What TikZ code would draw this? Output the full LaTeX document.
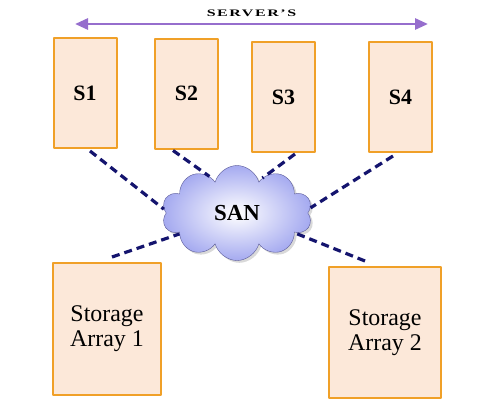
\documentclass[tikz,border=0pt]{standalone}
\usepackage{fontspec}
\setmainfont{Liberation Serif}
\usetikzlibrary{shapes.symbols,shadows,calc,arrows.meta}
\definecolor{boxfill}{RGB}{252,232,217}
\definecolor{boxline}{RGB}{240,160,40}
\definecolor{linkblue}{RGB}{20,20,110}
\definecolor{arrowpurple}{RGB}{150,110,205}
\definecolor{cloudblue}{RGB}{165,170,240}
\begin{document}
\begin{tikzpicture}[x=1bp,y=-1bp,line join=round,
    srv/.style={draw=boxline,fill=boxfill,line width=2bp,minimum width=63bp,minimum height=110bp,font=\fontsize{22}{24}\selectfont\bfseries},
    store/.style={draw=boxline,fill=boxfill,line width=2bp,align=center,font=\fontsize{24}{25}\selectfont},
    link/.style={draw=linkblue,line width=3.2bp,dash pattern=on 8bp off 5bp}]
    \useasboundingbox (0,0) rectangle (499,412);
    % servers
    \node[srv] (s1) at (85,93) {S1};
    \node[srv] (s2) at (186.5,93.5) {S2};
    \node[srv] (s3) at (283.5,97) {S3};
    \node[srv] (s4) at (400.5,97) {S4};
    \coordinate (arrL) at (75,24); \coordinate (arrR) at (428,24);
    \draw[arrowpurple,line width=2.8bp,{Triangle[length=13bp,width=11bp]}-{Triangle[length=13bp,width=11bp]}] (arrL)--(arrR)
        node[midway,above=3bp,black,font=\fontsize{10}{10}\selectfont\bfseries]{\scalebox{1.6}[1]{\addfontfeature{LetterSpace=10}SERVER’S}};
    % storage
    \node[store,minimum width=108bp,minimum height=132bp] (sa1) at (107,329) {Storage\\Array 1};
    \node[store,minimum width=112bp,minimum height=131bp] (sa2) at (385,332.5) {Storage\\Array 2};
    % cloud
    \node[cloud,cloud puffs=10,aspect=1.6,draw=linkblue!70,inner color=white,outer color=cloudblue,
        drop shadow={opacity=0.3},minimum width=150bp,minimum height=95bp,
        font=\fontsize{23}{23}\selectfont\bfseries] (san) at (237,213) {SAN};
    \draw[link] ($(s1.south)+(5,2)$)--(san.177);
    \draw[link] ($(s2.south)+(-13.5,1)$)--(san.127);
    \draw[link] ($(s3.south)+(11.5,1)$)--(san.54);
    \draw[link] ($(s4.south)+(-7.5,3)$)--(san.4);
    \draw[link] ($(sa1.north)+(5,-5)$)--(san.200);
    \draw[link] ($(sa2.north)+(-20,-5)$)--(san.341);
\end{tikzpicture}
\end{document}
